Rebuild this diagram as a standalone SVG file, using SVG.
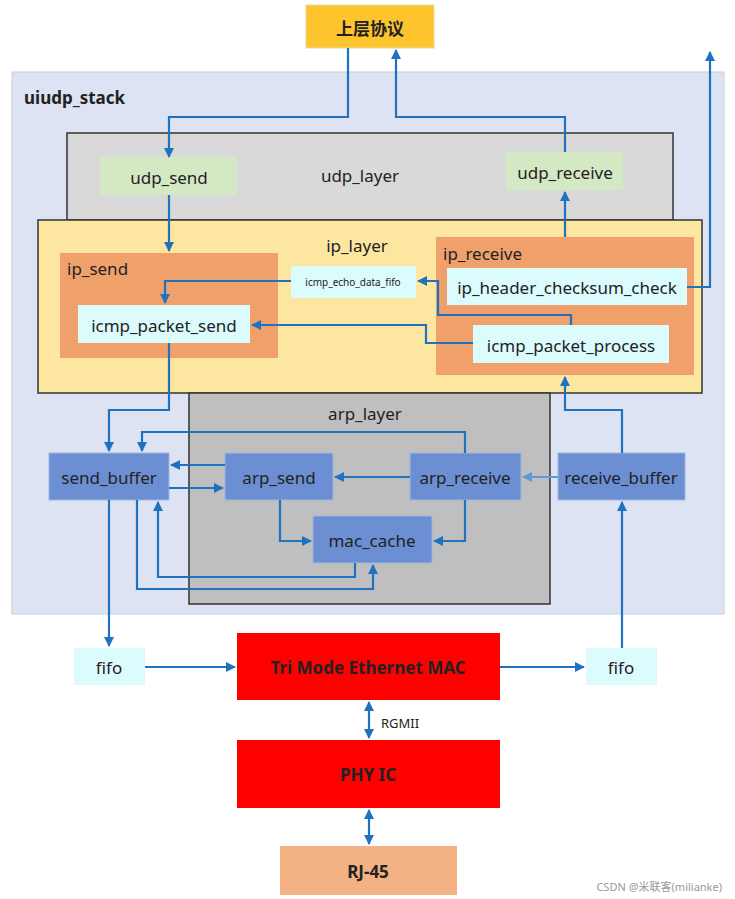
<svg xmlns="http://www.w3.org/2000/svg" width="735" height="899" viewBox="0 0 735 899">
<defs>
<marker id="a" markerWidth="10" markerHeight="10" refX="9" refY="5" orient="auto" markerUnits="userSpaceOnUse" viewBox="0 0 10 10"><path d="M0,0 L10,5 L0,10 z" fill="#1f72c0"/></marker>
<marker id="al" markerWidth="10" markerHeight="10" refX="9" refY="5" orient="auto" markerUnits="userSpaceOnUse" viewBox="0 0 10 10"><path d="M0,0 L10,5 L0,10 z" fill="#5a9bd5"/></marker>
<marker id="s" markerWidth="10" markerHeight="10" refX="1" refY="5" orient="auto" markerUnits="userSpaceOnUse" viewBox="0 0 10 10"><path d="M10,0 L0,5 L10,10 z" fill="#1f72c0"/></marker>
</defs>
<style>
text{font-family:"Noto Sans","Liberation Sans","Noto Sans CJK SC",sans-serif;font-size:17px;fill:#222;text-anchor:middle;dominant-baseline:central}
.c{fill:none;stroke:#1f72c0;stroke-width:2.2;marker-end:url(#a)}
.grn{fill:#d5e8c4}.cy{fill:#dcfbfd}.or{fill:#f0a06a}.bl{fill:#6b8fd2;stroke:#9fb6e0}.red{fill:#ff0000}
.b{font-weight:bold}
</style>
<rect width="735" height="899" fill="#fff"/>
<g id="stack"><rect x="12" y="72" width="712" height="542" fill="#dde3f2" stroke="#c8ccd6"/><text x="24" y="97" class="b" style="text-anchor:start">uiudp_stack</text></g>
<g id="udp_layer"><rect x="67" y="133" width="606" height="87" fill="#d9d9d9" stroke="#333" stroke-width="1.5"/><text x="360" y="175">udp_layer</text></g>
<g id="ip_layer"><rect x="38" y="220" width="664" height="173" fill="#fde6a0" stroke="#333" stroke-width="1.5"/><text x="357" y="245">ip_layer</text></g>
<g id="arp_layer"><rect x="189" y="393" width="361" height="211" fill="#bfbfbf" stroke="#333" stroke-width="1.5"/><text x="365" y="413">arp_layer</text></g>
<g id="upper"><rect x="306" y="5" width="128" height="43" fill="#fdc42e" stroke="#e8d8a0"/><text x="370" y="27" class="b" style="font-family:'Noto Sans CJK SC',sans-serif">上层协议</text></g>
<g id="udp_send"><rect x="100" y="157" width="137" height="38" class="grn"/><text x="169" y="177">udp_send</text></g>
<g id="udp_receive"><rect x="506" y="152" width="117" height="38" class="grn"/><text x="565" y="172">udp_receive</text></g>
<g id="ip_send"><rect x="60" y="253" width="218" height="105" class="or"/><text x="67" y="268" style="text-anchor:start">ip_send</text></g>
<g id="ip_receive"><rect x="436" y="237" width="258" height="138" class="or"/><text x="443" y="253" style="text-anchor:start">ip_receive</text></g>
<g id="fifo_echo"><rect x="291" y="266" width="125" height="32" class="cy"/><text x="353" y="282" style="font-size:10px">icmp_echo_data_fifo</text></g>
<g id="ip_hcc"><rect x="447" y="268" width="240" height="37" class="cy"/><text x="567" y="287">ip_header_checksum_check</text></g>
<g id="icmp_send"><rect x="78" y="305" width="172" height="38" class="cy"/><text x="164" y="325">icmp_packet_send</text></g>
<g id="icmp_proc"><rect x="473" y="325" width="196" height="38" class="cy"/><text x="571" y="345">icmp_packet_process</text></g>
<g id="send_buffer"><rect x="49" y="453" width="120" height="47" class="bl"/><text x="109" y="477">send_buffer</text></g>
<g id="arp_send"><rect x="225" y="453" width="108" height="47" class="bl"/><text x="279" y="477">arp_send</text></g>
<g id="arp_receive"><rect x="410" y="453" width="111" height="47" class="bl"/><text x="465" y="477">arp_receive</text></g>
<g id="receive_buffer"><rect x="558" y="453" width="127" height="47" class="bl"/><text x="621" y="477">receive_buffer</text></g>
<g id="mac_cache"><rect x="313" y="516" width="119" height="47" class="bl"/><text x="372" y="540">mac_cache</text></g>
<g id="fifo_l"><rect x="74" y="648" width="71" height="37" class="cy"/><text x="109" y="667">fifo</text></g>
<g id="fifo_r"><rect x="586" y="648" width="71" height="37" class="cy"/><text x="621" y="667">fifo</text></g>
<g id="mac"><rect x="237" y="633" width="263" height="67" class="red"/><text x="368" y="667" class="b">Tri Mode Ethernet MAC</text></g>
<g id="phy"><rect x="237" y="740" width="263" height="68" class="red"/><text x="368" y="774" class="b">PHY IC</text></g>
<g id="rj45"><rect x="280" y="846" width="177" height="49" fill="#f4b183"/><text x="368" y="871" class="b">RJ-45</text></g>
<g id="connectors">
<path class="c" d="M348,48 V117 H169 V157"/>
<path class="c" d="M565,152 V117 H396 V50"/>
<path class="c" d="M169,195 V251"/>
<path class="c" d="M565,237 V192"/>
<path class="c" d="M687,287 H710 V52"/>
<path class="c" d="M291,281 H165 V303"/>
<path class="c" d="M571,325 V315 H438 V281 H418"/>
<path class="c" d="M473,343 H426 V325 H252"/>
<path class="c" d="M169,343 V410 H109 V451"/>
<path class="c" d="M622,453 V410 H565 V377"/>
<path class="c" d="M465,453 V432 H142 V451"/>
<path class="c" d="M225,465 H171"/>
<path class="c" d="M169,488 H223"/>
<path class="c" d="M410,477 H335"/>
<path fill="none" stroke="#5a9bd5" stroke-width="2.2" marker-end="url(#al)" d="M558,477 H523"/>
<path class="c" d="M280,500 V541 H311"/>
<path class="c" d="M465,500 V541 H434"/>
<path class="c" d="M355,563 V577 H158 V502"/>
<path class="c" d="M137,500 V589 H373 V565"/>
<path class="c" d="M109,500 V646"/>
<path class="c" d="M145,667 H235"/>
<path class="c" d="M500,667 H584"/>
<path class="c" d="M622,648 V502"/>
<path class="c" marker-start="url(#s)" d="M369,702 V738"/>
<path class="c" marker-start="url(#s)" d="M369,810 V844"/>
</g>
<text x="381" y="723" style="font-size:13px;text-anchor:start">RGMII</text>
<text x="722" y="886" style="font-size:11px;fill:#999;text-anchor:end;font-family:'Noto Sans','Noto Sans CJK SC',sans-serif">CSDN @米联客(milianke)</text>
</svg>
